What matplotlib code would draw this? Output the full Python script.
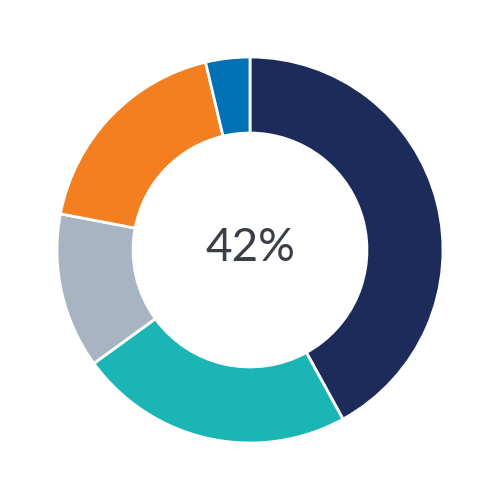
import matplotlib
matplotlib.use("Agg")
import matplotlib.pyplot as plt

labels = ["A", "B", "C", "D", "E"]
values = [42, 23, 13, 18.3, 3.7]
colors = ["#1c2b5a", "#1cb5b5", "#a9b4c2", "#f47f20", "#0071b4"]
center_text = "42%"

fig = plt.figure(figsize=(5, 5), dpi=100)
ax = fig.add_axes([0, 0, 1, 1])
ax.pie(values, colors=colors, startangle=90, counterclock=False,
       radius=1.0, wedgeprops=dict(width=0.394, edgecolor="white", linewidth=2))
ax.text(0, 0.01, center_text, ha="center", va="center", fontsize=33,
        color="#3a3f47", family=["Lato", "DejaVu Sans"], fontweight="normal")
lim = 250 / 193
ax.set_xlim(-lim, lim)
ax.set_ylim(-lim, lim)
ax.set_aspect("equal")
ax.axis("off")
fig.savefig("out.png", dpi=100, facecolor="white")
